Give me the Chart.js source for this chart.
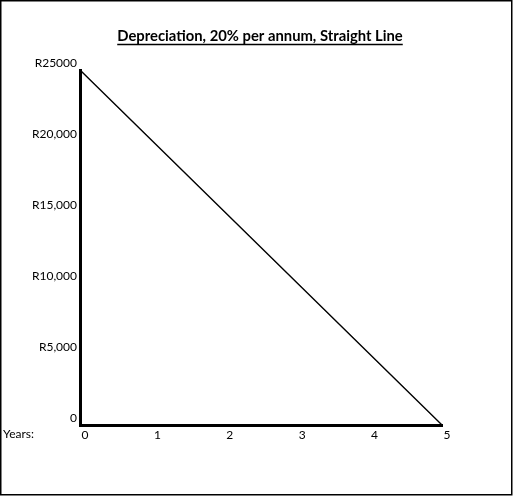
<!DOCTYPE html>
<html>
<head>
<meta charset="utf-8">
<script src="https://cdn.jsdelivr.net/npm/chart.js@4"></script>
<style>
html,body{margin:0;padding:0;background:#fff;}
#wrap{width:514px;height:496px;position:relative;}
</style>
</head>
<body>
<div id="wrap"><canvas id="c" width="514" height="496"></canvas></div>
<script>
const years = ['0', '1', '2', '3', '4', '5'];
const bookValues = [25000, 20000, 15000, 10000, 5000, 0];
const yTickValues = [0, 5000, 10000, 15000, 20000, 25000];
const yTickLabels = ['0', 'R5,000', 'R10,000', 'R15,000', 'R20,000', 'R25000'];
const titleText = 'Depreciation, 20% per annum, Straight Line';
const xLeadLabel = 'Years:';

const FONT = 'Lato, "Noto Sans", sans-serif';

const decorPlugin = {
  id: 'decor',
  afterDraw(chart) {
    const ctx = chart.ctx;
    ctx.save();
    // title with underline
    ctx.font = 'bold 14.8px ' + FONT;
    ctx.fillStyle = '#000';
    ctx.textAlign = 'center';
    ctx.textBaseline = 'middle';
    const cx = 260;
    ctx.fillText(titleText, cx, 36);
    const w = ctx.measureText(titleText).width;
    ctx.strokeStyle = '#000';
    ctx.lineWidth = 1.4;
    ctx.beginPath();
    ctx.moveTo(cx - w / 2, 44.5);
    ctx.lineTo(cx + w / 2, 44.5);
    ctx.stroke();
    // "Years:" label
    ctx.font = '12px ' + FONT;
    ctx.textAlign = 'left';
    ctx.fillText(xLeadLabel, 3, 434);
    // outer frame
    ctx.lineWidth = 1.5;
    ctx.strokeRect(0.75, 0.75, 511, 494);
    ctx.restore();
  }
};

new Chart(document.getElementById('c'), {
  type: 'line',
  data: {
    labels: years,
    datasets: [{
      data: bookValues,
      borderColor: '#000',
      borderWidth: 1.4,
      pointRadius: 0,
      tension: 0,
      fill: false
    }]
  },
  options: {
    responsive: false,
    animation: false,
    devicePixelRatio: 1,
    layout: { padding: { left: 0, right: 72, top: 70, bottom: 0 } },
    plugins: {
      legend: { display: false },
      tooltip: { enabled: false },
      title: { display: false }
    },
    scales: {
      x: {
        type: 'category',
        offset: false,
        grid: { display: false, drawTicks: false },
        border: { display: true, color: '#000', width: 3 },
        ticks: {
          color: '#000',
          font: { family: FONT, size: 12 },
          padding: 3,
          labelOffset: 5,
          maxRotation: 0,
          autoSkip: false
        },
        afterFit(s) { s.height = 71; }
      },
      y: {
        type: 'linear',
        min: 0,
        max: 25000,
        grid: { display: false, drawTicks: false },
        border: { display: true, color: '#000', width: 3 },
        afterBuildTicks(s) { s.ticks = yTickValues.map(v => ({ value: v })); },
        ticks: {
          color: '#000',
          font: { family: FONT, size: 12 },
          padding: 3,
          labelOffset: -7,
          callback(v) {
            const i = yTickValues.indexOf(v);
            return i >= 0 ? yTickLabels[i] : '';
          }
        },
        afterFit(s) { s.width = 80; }
      }
    }
  },
  plugins: [decorPlugin]
});
</script>
</body>
</html>
